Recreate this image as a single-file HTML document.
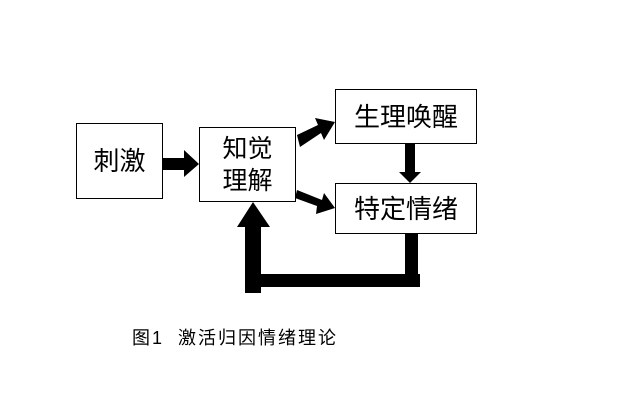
<!DOCTYPE html>
<html><head><meta charset="utf-8"><style>
body{margin:0;background:#fff;width:627px;height:420px;overflow:hidden;position:relative;font-family:"Liberation Sans","Noto Sans CJK SC",sans-serif}
.b{position:absolute;border:1px solid #000;background:#fff;box-sizing:border-box;display:flex;align-items:center;justify-content:center;font-size:26px;color:#000;line-height:32px;text-align:center}
.c{position:absolute;left:132px;top:324px;font-size:18px;letter-spacing:2px;color:#000;white-space:pre}
</style></head><body>
<svg width="627" height="420" style="position:absolute;left:0;top:0">
<g fill="#000" stroke="none">
<polygon points="162,158 184,158 184,150 199,164 184,177 184,170 162,170"/>
<polygon points="297,135 318,125 315,118 335,122 324,140 321,133 300,147"/>
<polygon points="297,190 322,200 324,193 335,208 316,214 317,206 295,198"/>
<polygon points="405,143 415,143 415,172 421,172 410,183 399,172 405,172"/>
<rect x="405" y="233" width="13" height="54"/>
<rect x="258" y="274" width="162" height="13"/>
<polygon points="245,293 261,293 261,227 270,227 253,202 237,227 245,227"/>
</g></svg>
<div class="b" style="left:76px;top:123px;width:87px;height:76px">刺激</div>
<div class="b" style="left:199px;top:127px;width:97px;height:75px;font-size:25px">知觉<br>理解</div>
<div class="b" style="left:335px;top:89px;width:142px;height:55px">生理唤醒</div>
<div class="b" style="left:335px;top:183px;width:142px;height:51px">特定情绪</div>
<div class="c">图1  激活归因情绪理论</div>
</body></html>
